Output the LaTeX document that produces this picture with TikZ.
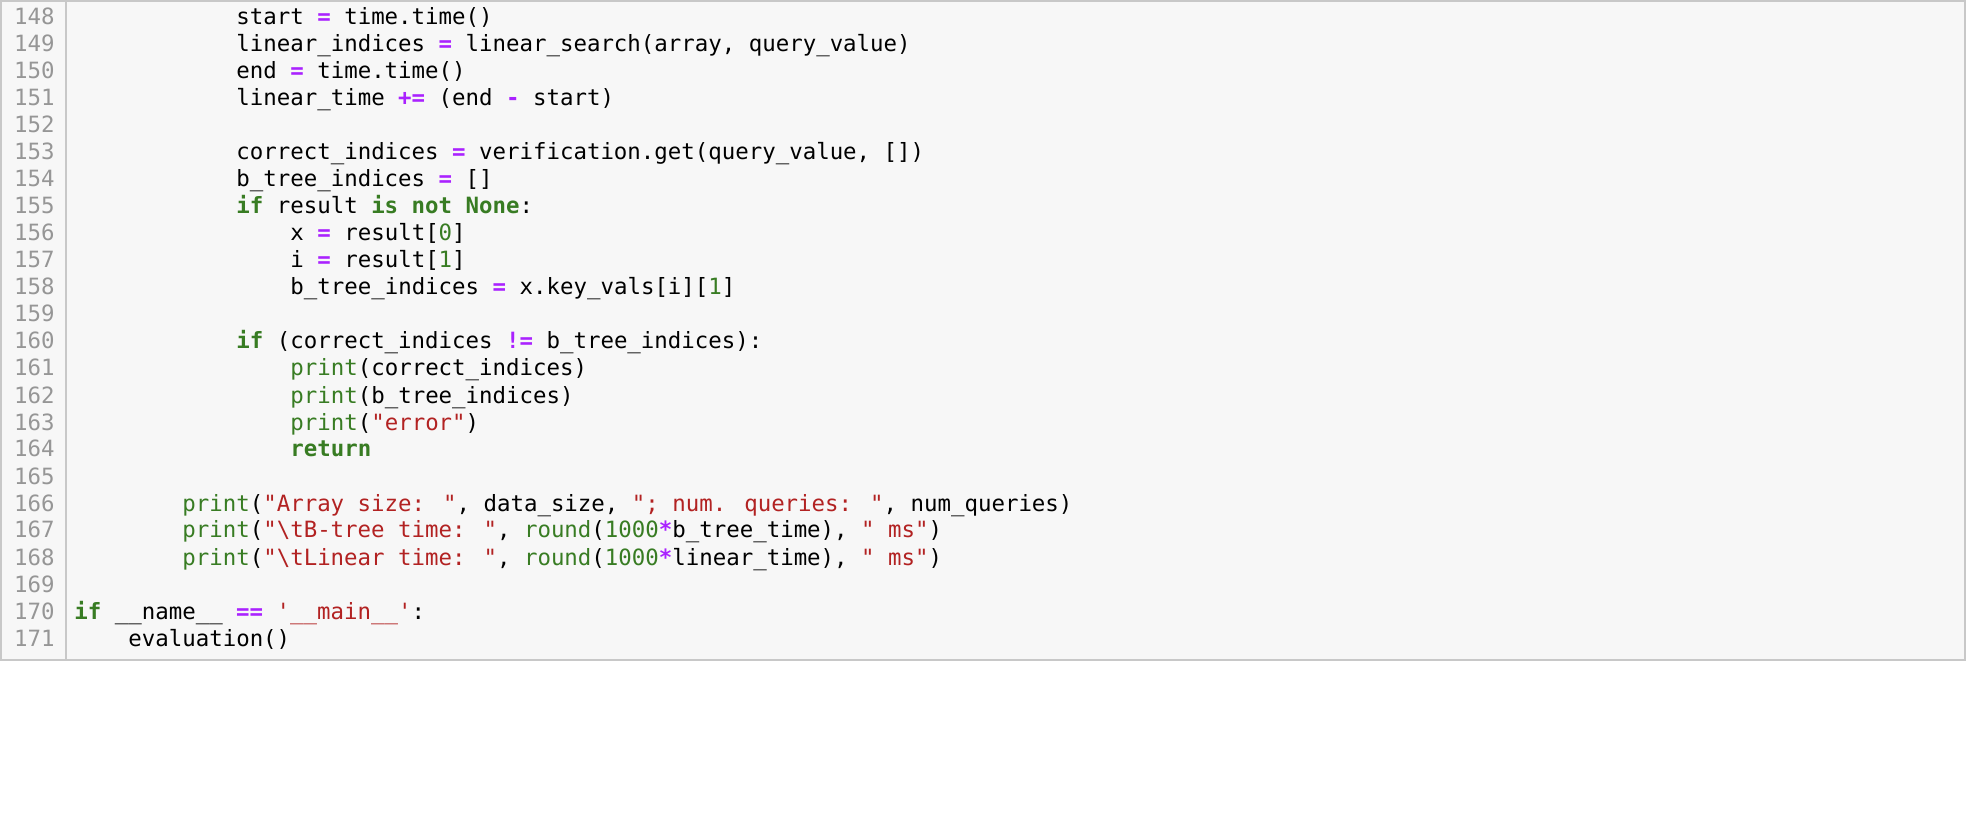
\documentclass[tikz,border=0pt]{standalone}
\usepackage{fontspec}
\newfontfamily\codefont{DejaVu Sans Mono}
\definecolor{bgc}{RGB}{247,247,247}
\definecolor{kwc}{RGB}{56,124,35}
\definecolor{stc}{RGB}{178,34,34}
\definecolor{opc}{RGB}{170,34,255}
\definecolor{lnc}{RGB}{150,150,150}
\definecolor{bdc}{RGB}{200,200,200}
\newcommand\kw[1]{\textcolor{kwc}{\bfseries #1}}
\newcommand\bi[1]{\textcolor{kwc}{#1}}
\newcommand\st[1]{\textcolor{stc}{#1}}
\newcommand\op[1]{\textcolor{opc}{\bfseries #1}}
\newcommand\nm[1]{\textcolor{kwc}{#1}}
\newcommand\U{\_}
\begin{document}
\begin{tikzpicture}[x=1pt,y=1pt,
  codeln/.style={anchor=base west,inner sep=0pt,font=\codefont\fontsize{11.2}{13.5}\selectfont},
  lnum/.style={anchor=base east,inner sep=0pt,text=lnc,font=\codefont\fontsize{11.2}{13.5}\selectfont}]
\useasboundingbox (0,0) rectangle (986,-417);
\fill[white] (0,0) rectangle (986,-417);
\draw[bdc,fill=bgc,line width=0.8pt] (0.5,-0.5) rectangle (982.5,-330);
\draw[bdc,line width=0.8pt] (33,-0.5) -- (33,-330);
\foreach \n [count=\k from 0] in {148,...,171}{
  \node[lnum] (n\n) at (27.5,{-12.5-13.5*\k}) {\n};
}
\newcommand\cl[3]{\node[codeln] (c#1) at ({37+6.75*#2},{-12.5-13.5*(#1-148)}) {#3};}
\cl{148}{12}{start \op{=} time.time()}
\cl{149}{12}{linear\U indices \op{=} linear\U search(array, query\U value)}
\cl{150}{12}{end \op{=} time.time()}
\cl{151}{12}{linear\U time \op{+=} (end \op{-} start)}
\cl{153}{12}{correct\U indices \op{=} verification.get(query\U value, [])}
\cl{154}{12}{b\U tree\U indices \op{=} []}
\cl{155}{12}{\kw{if} result \kw{is} \kw{not} \kw{None}:}
\cl{156}{16}{x \op{=} result[\nm{0}]}
\cl{157}{16}{i \op{=} result[\nm{1}]}
\cl{158}{16}{b\U tree\U indices \op{=} x.key\U vals[i][\nm{1}]}
\cl{160}{12}{\kw{if} (correct\U indices \op{!=} b\U tree\U indices):}
\cl{161}{16}{\bi{print}(correct\U indices)}
\cl{162}{16}{\bi{print}(b\U tree\U indices)}
\cl{163}{16}{\bi{print}(\st{"error"})}
\cl{164}{16}{\kw{return}}
\cl{166}{8}{\bi{print}(\st{"Array size: "}, data\U size, \st{"; num. queries: "}, num\U queries)}
\cl{167}{8}{\bi{print}(\st{"\textbackslash tB-tree time: "}, \bi{round}(\nm{1000}\op{*}b\U tree\U time), \st{" ms"})}
\cl{168}{8}{\bi{print}(\st{"\textbackslash tLinear time: "}, \bi{round}(\nm{1000}\op{*}linear\U time), \st{" ms"})}
\cl{170}{0}{\kw{if} \U\U name\U\U{} \op{==} \st{'\U\U main\U\U'}:}
\cl{171}{4}{evaluation()}
\end{tikzpicture}
\end{document}
